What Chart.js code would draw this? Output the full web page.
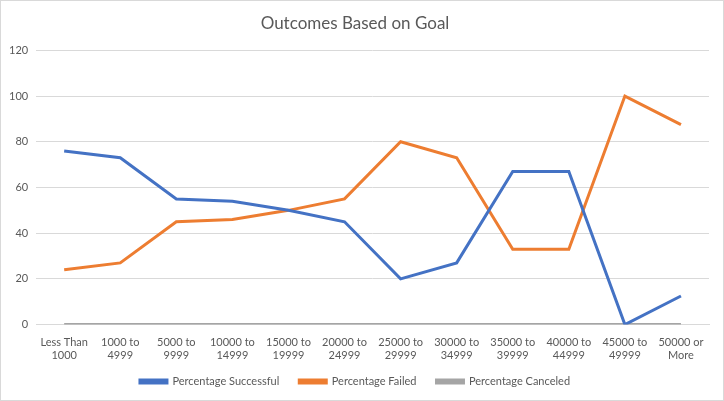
<!DOCTYPE html>
<html>
<head>
<meta charset="utf-8">
<script src="https://cdn.jsdelivr.net/npm/chart.js@4/dist/chart.umd.min.js"></script>
<style>
  html, body { margin: 0; padding: 0; background: #fff; }
  #wrap { width: 724px; height: 401px; box-sizing: border-box; border: 1px solid #d9d9d9; position: relative; }
</style>
</head>
<body>
<div id="wrap"><canvas id="chart"></canvas></div>
<script>
  const goalRanges = [
    ['Less Than', '1000'], ['1000 to', '4999'], ['5000 to', '9999'], ['10000 to', '14999'],
    ['15000 to', '19999'], ['20000 to', '24999'], ['25000 to', '29999'], ['30000 to', '34999'],
    ['35000 to', '39999'], ['40000 to', '44999'], ['45000 to', '49999'], ['50000 or', 'More']
  ];
  const pctSuccessful = [76, 73, 55, 54, 50, 45, 20, 27, 67, 67, 0, 12.5];
  const pctFailed = [24, 27, 45, 46, 50, 55, 80, 73, 33, 33, 100, 87.5];
  const pctCanceled = [0, 0, 0, 0, 0, 0, 0, 0, 0, 0, 0, 0];

  const txt = '#595959';
  const font = 'Lato';

  const series = (label, data, color) => ({
    label: label,
    data: data,
    borderColor: color,
    backgroundColor: color,
    borderWidth: 3,
    pointRadius: 0,
    tension: 0,
    fill: false
  });

  // legend padding is shared by both directions, so nudge the row up a little
  const legendLift = {
    id: 'legendLift',
    afterLayout(chart) {
      chart.legend.top -= 9;
      chart.legend.bottom -= 9;
    }
  };

  const ctx = document.getElementById('chart').getContext('2d');
  new Chart(ctx, {
    type: 'line',
    data: {
      labels: goalRanges,
      datasets: [
        series('Percentage Successful', pctSuccessful, '#4472c4'),
        series('Percentage Failed', pctFailed, '#ed7d31'),
        series('Percentage Canceled', pctCanceled, '#a5a5a5')
      ]
    },
    options: {
      animation: false,
      responsive: true,
      maintainAspectRatio: false,
      layout: { padding: { left: 0, right: 14, top: 12, bottom: -6 } },
      plugins: {
        title: {
          display: true,
          text: 'Outcomes Based on Goal',
          color: txt,
          font: { family: font, size: 17, weight: 'normal' },
          padding: { top: 0, bottom: 17 }
        },
        legend: {
          position: 'bottom',
          labels: {
            color: txt,
            font: { family: font, size: 11 },
            boxWidth: 27,
            boxHeight: 3,
            padding: 20
          }
        },
        tooltip: { enabled: false }
      },
      scales: {
        x: {
          offset: true,
          grid: { display: false },
          border: { color: '#d9d9d9' },
          ticks: {
            color: txt,
            font: { family: font, size: 11 },
            maxRotation: 0,
            autoSkip: false,
            padding: 3
          }
        },
        y: {
          min: 0,
          max: 120,
          ticks: {
            stepSize: 20,
            color: txt,
            font: { family: font, size: 11 },
            padding: 8
          },
          grid: { color: '#d9d9d9', drawTicks: false },
          border: { display: false }
        }
      }
    },
    plugins: [legendLift]
  });
</script>
</body>
</html>
